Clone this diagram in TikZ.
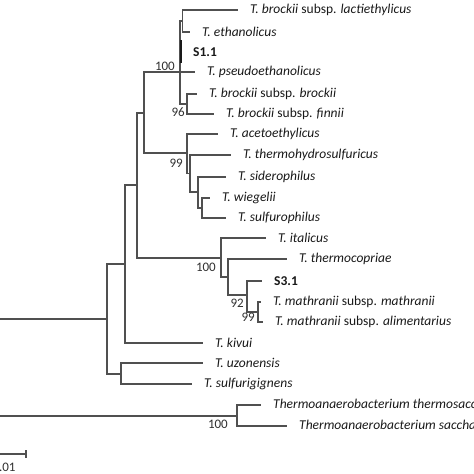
\documentclass[tikz,border=0pt]{standalone}
\usepackage{fontspec}
\setmainfont{Carlito}
\definecolor{branch}{RGB}{80,80,80}
\definecolor{txt}{RGB}{25,25,25}
\newcommand{\ssp}{{\upshape subsp.}}
\begin{document}
\begin{tikzpicture}[x=1pt,y=-1pt,
  br/.style={draw=branch, line width=1.2pt, line join=miter},
  leaf/.style={anchor=west, inner xsep=12pt, inner ysep=1pt, font=\fontsize{13.5}{15}\selectfont\itshape, text=txt},
  strain/.style={anchor=west, inner sep=0pt, font=\fontsize{13.5}{15}\selectfont\bfseries, text=txt},
  boot/.style={anchor=east, inner sep=0pt, font=\fontsize{13}{15}\selectfont, text=txt!90}]
\useasboundingbox (0,0) rectangle (474,474);
\clip (0,0) rectangle (474,474);
% internal nodes
\coordinate (R) at (-10,367.5);
\coordinate (N1) at (107,319);
\coordinate (N2) at (125,264);
\coordinate (N3) at (137,185);
\coordinate (N4) at (144,113);
\coordinate (N5) at (180,72);
\coordinate (A) at (182.5,21);
\coordinate (BF) at (187,104);
\coordinate (N6) at (187,153);
\coordinate (N6b) at (190,173.5);
\coordinate (N6c) at (198,192);
\coordinate (N6d) at (202,208);
\coordinate (N9) at (221,258);
\coordinate (N10) at (228,277);
\coordinate (N11) at (247,295);
\coordinate (N12) at (258,312);
\coordinate (N7) at (121,374);
\coordinate (N8) at (237,416);
\coordinate (S1top) at (181,40);
\coordinate (S1bot) at (181,63);
% leaves
\node[leaf] (lac) at (238,10) {T. brockii \ssp{} lactiethylicus};
\node[leaf] (eth) at (190,32) {T. ethanolicus};
\node[strain] (S1) at (193,52) {S1.1};
\node[leaf] (pse) at (195,72) {T. pseudoethanolicus};
\node[leaf] (bro) at (197,94) {T. brockii \ssp{} brockii};
\node[leaf] (fin) at (214,114) {T. brockii \ssp{} finnii};
\node[leaf] (ace) at (218,134) {T. acetoethylicus};
\node[leaf] (thy) at (231,155) {T. thermohydrosulfuricus};
\node[leaf] (sid) at (226,177) {T. siderophilus};
\node[leaf] (wie) at (210,198) {T. wiegelii};
\node[leaf] (sul) at (226,218) {T. sulfurophilus};
\node[leaf] (ita) at (266,238) {T. italicus};
\node[leaf] (tco) at (287,259) {T. thermocopriae};
\node[leaf] (S3) at (262,281) {\upshape\bfseries S3.1};
\node[leaf] (mat) at (261,302) {T. mathranii \ssp{} mathranii};
\node[leaf] (ali) at (263,322) {T. mathranii \ssp{} alimentarius};
\node[leaf] (kiv) at (203,343) {T. kivui};
\node[leaf] (uzo) at (203,363) {T. uzonensis};
\node[leaf] (sfg) at (192,384) {T. sulfurigignens};
\node[leaf] (ths) at (261,405) {Thermoanaerobacterium thermosaccharolyticum};
\node[leaf] (tsa) at (287,426) {Thermoanaerobacterium saccharolyticum};
% branches
\draw[br] (R) |- (N1);
\draw[br] (R) |- (N8);
\draw[br] (N1) |- (N2);
\draw[br] (N1) |- (N7);
\draw[br] (N2) |- (N3);
\draw[br] (N2) |- (kiv.west);
\draw[br] (N3) |- (N4);
\draw[br] (N3) |- (N9);
\draw[br] (N4) |- (N5);
\draw[br] (N4) |- (N6);
\draw[br] (N5) |- (A);
\draw[br] (N5) |- (BF);
\draw[br] (N5) -- (pse.west);
\draw[br] (A) |- (lac.west);
\draw[br] (A) |- (eth.west);
\draw[draw=txt, line width=2.4pt] (S1top) -- (S1bot);
\draw[br] (BF) |- (bro.west);
\draw[br] (BF) |- (fin.west);
\draw[br] (N6) |- (ace.west);
\draw[br] (N6) |- (N6b);
\draw[br] (N6b) |- (thy.west);
\draw[br] (N6b) |- (N6c);
\draw[br] (N6c) |- (sid.west);
\draw[br] (N6c) |- (N6d);
\draw[br] (N6d) |- (wie.west);
\draw[br] (N6d) |- (sul.west);
\draw[br] (N9) |- (ita.west);
\draw[br] (N9) |- (N10);
\draw[br] (N10) |- (tco.west);
\draw[br] (N10) |- (N11);
\draw[br] (N11) |- (S3.west);
\draw[br] (N11) |- (N12);
\draw[br] (N12) |- (mat.west);
\draw[br] (N12) |- (ali.west);
\draw[br] (N7) |- (uzo.west);
\draw[br] (N7) |- (sfg.west);
\draw[br] (N8) |- (ths.west);
\draw[br] (N8) |- (tsa.west);
% bootstrap values
\node[boot] (b1) at (175,66) {100};
\node[boot] (b2) at (185,112) {96};
\node[boot] (b3) at (183,163) {99};
\node[boot] (b4) at (216,267) {100};
\node[boot] (b5) at (244,303) {92};
\node[boot] (b6) at (255,317) {99};
\node[boot] (b7) at (228,424) {100};
% scale bar
\coordinate (sbL) at (-18,454);
\coordinate (sbR) at (26,454);
\coordinate (sbT) at (26,450);
\coordinate (sbB) at (26,458);
\draw[br] (sbL) -- (sbR);
\draw[br] (sbT) -- (sbB);
\node[boot, anchor=center] (sbl) at (4,467) {0.01};
\end{tikzpicture}
\end{document}
